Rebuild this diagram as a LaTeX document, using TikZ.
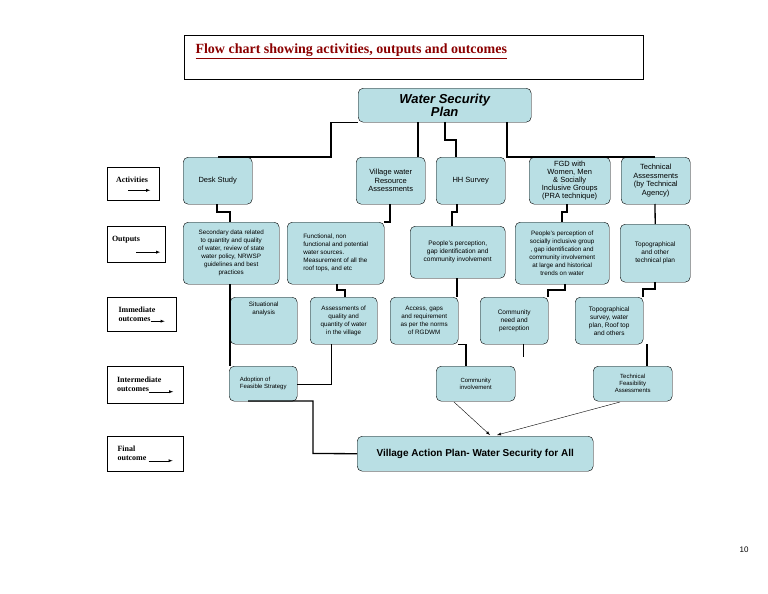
\documentclass[tikz,border=0pt]{standalone}
\usepackage{fontspec}
\setmainfont{Liberation Sans}
\newfontfamily\serifbold{Liberation Serif}
\definecolor{boxcyan}{HTML}{B9DFE4}
\definecolor{titlered}{HTML}{8B0000}
\tikzset{
  flowbox/.style={draw, rounded corners=5pt, fill=boxcyan, align=center, inner sep=1pt, anchor=north west},
  tagbox/.style={draw, thin, align=left, anchor=north west, font=\serifbold\bfseries\fontsize{8}{9}\selectfont},
  link/.style={line width=1.3pt},
  thinlink/.style={thin},
}
\begin{document}
\begin{tikzpicture}[x=1pt, y=-1pt]
\useasboundingbox (0,0) rectangle (768,594);
  % title
  \node[draw, thin, minimum width=459pt, minimum height=44pt, anchor=north west] (title) at (184,35) {};
  \node[anchor=west, text=titlered, font=\serifbold\bfseries\fontsize{14}{16}\selectfont] (titletext) at (192,51) {\underline{Flow chart showing activities, outputs and outcomes}};
  % top plan
  \node[flowbox, minimum width=173pt, minimum height=34pt, font=\bfseries\itshape\fontsize{13}{13}\selectfont] (wsp) at (358,88) {Water Security\\Plan};
  % activities
  \node[flowbox, minimum width=69pt, minimum height=47pt, font=\fontsize{7.5}{8.5}\selectfont] (desk) at (183,157) {Desk Study};
  \node[flowbox, minimum width=69pt, minimum height=47pt, font=\fontsize{7.5}{8.5}\selectfont] (village) at (356,157) {Village water\\Resource\\Assessments};
  \node[flowbox, minimum width=69pt, minimum height=47pt, font=\fontsize{7.5}{8.5}\selectfont] (hh) at (436,157) {HH Survey};
  \node[flowbox, minimum width=81pt, minimum height=47pt, font=\fontsize{7.5}{8}\selectfont] (fgd) at (529,157) {FGD with\\Women, Men\\\& Socially\\Inclusive Groups\\(PRA technique)};
  \node[flowbox, minimum width=69pt, minimum height=47pt, font=\fontsize{7.5}{8.5}\selectfont] (tech) at (621,157) {Technical\\Assessments\\(by Technical\\Agency)};
  % outputs
  \node[flowbox, minimum width=96pt, minimum height=62pt, font=\fontsize{6.3}{8}\selectfont] (secondary) at (183,222) {Secondary data related\\to quantity and quality\\of water, review of state\\water policy, NRWSP\\guidelines and best\\practices};
  \node[flowbox, minimum width=97pt, minimum height=62pt, align=left, font=\fontsize{6.3}{8}\selectfont] (functional) at (287,222) {Functional, non\\functional and potential\\water sources.\\Measurement of all the\\roof tops, and etc};
  \node[flowbox, minimum width=95pt, minimum height=52pt, font=\fontsize{6.5}{8}\selectfont] (perception) at (410,226) {People's perception,\\gap identification and\\community involvement};
  \node[flowbox, minimum width=94pt, minimum height=62pt, font=\fontsize{6.3}{8}\selectfont] (perception2) at (515,222) {People's perception of\\socially inclusive group\\, gap identification and\\community involvement\\at large and historical\\trends on water};
  \node[flowbox, minimum width=70pt, minimum height=58pt, font=\fontsize{6.5}{8}\selectfont] (topo) at (620,224) {Topographical\\and other\\technical plan};
  % immediate outcomes
  \node[flowbox, minimum width=67pt, minimum height=47pt, font=\fontsize{6.3}{8}\selectfont] (situational) at (230,297) {Situational\\analysis\\[16pt]};
  \node[flowbox, minimum width=67pt, minimum height=47pt, font=\fontsize{6.3}{8}\selectfont] (assess) at (310,297) {Assessments of\\quality and\\quantity of water\\in the village};
  \node[flowbox, minimum width=68pt, minimum height=47pt, font=\fontsize{6.3}{8}\selectfont] (access) at (390,297) {Access, gaps\\and requirement\\as per the norms\\of RGDWM};
  \node[flowbox, minimum width=68pt, minimum height=47pt, font=\fontsize{6.5}{8}\selectfont] (need) at (480,297) {Community\\need and\\perception};
  \node[flowbox, minimum width=68pt, minimum height=47pt, font=\fontsize{6.5}{8}\selectfont] (survey) at (575,297) {Topographical\\survey, water\\plan, Roof top\\and others};
  % intermediate outcomes
  \node[flowbox, minimum width=68pt, minimum height=35pt, align=left, font=\fontsize{6}{7}\selectfont] (adoption) at (229,366) {Adoption of\\Feasible Strategy};
  \node[flowbox, minimum width=79pt, minimum height=35pt, font=\fontsize{6}{7}\selectfont] (involve) at (436,366) {Community\\involvement};
  \node[flowbox, minimum width=79pt, minimum height=35pt, font=\fontsize{6}{7}\selectfont] (feasible) at (593,366) {Technical\\Feasibility\\Assessments};
  % final outcome
  \node[flowbox, minimum width=236pt, minimum height=35pt, font=\bfseries\fontsize{10}{11}\selectfont] (action) at (357,436) {Village Action Plan- Water Security for All};
  % row tags
  \node[tagbox, minimum width=52pt, minimum height=33pt] (tagact) at (107,167) {Activities\\[-1pt]\hspace*{12pt}\tikz\draw[-latex] (0,0) -- (22pt,0);};
  \node[tagbox, minimum width=58pt, minimum height=36pt] (tagout) at (107,226) {Outputs\\[2pt]\hspace*{24pt}\tikz\draw[-latex] (0,0) -- (24pt,0);};
  \node[tagbox, minimum width=69pt, minimum height=34pt] (tagimm) at (107,297) {Immediate\\outcomes\tikz\draw[-latex] (0,0) -- (14pt,0);};
  \node[tagbox, minimum width=76pt, minimum height=37pt] (tagint) at (107,366) {Intermediate\\outcomes\tikz\draw[-latex] (0,0) -- (24pt,0);};
  \node[tagbox, minimum width=76pt, minimum height=35pt] (tagfin) at (107,436) {Final\\outcome \tikz\draw[-latex] (0,0) -- (24pt,0);};
  \node[font=\fontsize{8}{9}\selectfont] (page) at (744,550) {10};
  % plan to activities
  \draw[link] (wsp.south west) -| (331,157) -| (desk.north);
  \draw[link] (418,122) -- (418,157);
  \draw[link] (445,122) |- (456,140) -- (456,157);
  \draw[link] (507,122) |- (655,157);
  % activities to outputs
  \draw[link] (217,204) |- (230,212) -- (230,222);
  \draw[link] (390,204) |- (functional.north east);
  \draw[link] (457,204) |- (452,212) -- (452,226);
  \draw[link] (567,204) |- (562,212) -- (562,222);
  \draw[link] (655,204) -- (topo.north);
  % outputs to immediate outcomes
  \draw[link] (230,284) -- (230,366);
  \draw[link] (337,284) |- (345,290) -- (345,297);
  \draw[link] (457,278) -- (457,297);
  \draw[link] (565,284) |- (548,290) -- (548,297);
  \draw[link] (655,282) |- (643,289) -- (643,297);
  % immediate to intermediate outcomes
  \draw[thinlink] (331,344) |- (adoption.east);
  \draw[link] (access.south east) -| (466,366);
  \draw[thinlink] (523,344) -- (523,357);
  \draw[link] (647,344) -- (647,366);
  % to final outcome
  \draw[link] (248,401) -| (313,453.5) -- (action.west);
  \draw[-latex] (454,402) -- (490,435);
  \draw[-latex] (620,402) -- (497,435);
\end{tikzpicture}
\end{document}
